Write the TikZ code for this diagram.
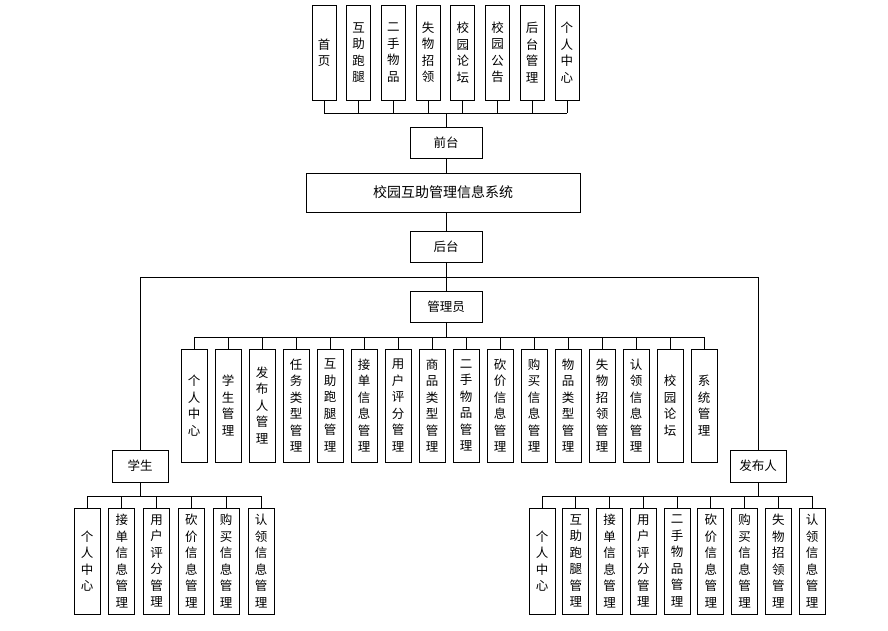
\documentclass[tikz,border=0pt]{standalone}
\usepackage{fontspec}
\setmainfont{Noto Sans CJK SC}
\begin{document}
\begin{tikzpicture}[x=1pt,y=-1pt,
  box/.style={draw,line width=0.8pt,fill=white,inner sep=0pt,align=center,font=\fontsize{12.5}{16.5}\selectfont},
  vb/.style={box,minimum width=24,minimum height=#1},
  ln/.style={line width=0.8pt}]
\useasboundingbox (0,0) rectangle (888,630);
% top
\foreach \t [count=\i] in {首\\页,互\\助\\跑\\腿,二\\手\\物\\品,失\\物\\招\\领,校\\园\\论\\坛,校\\园\\公\\告,后\\台\\管\\理,个\\人\\中\\心}
  \node[vb=95] (t\i) at ({324+34.7*(\i-1)},52.5) {\t};
\node[box,minimum width=72,minimum height=31] (qt) at (446,142.5) {前台};
\node[box,minimum width=274,minimum height=39,font=\fontsize{14}{16}\selectfont] (sys) at (443,192.5) {校园互助管理信息系统};
\node[box,minimum width=72,minimum height=31] (ht) at (446,246.5) {后台};
\coordinate (tb) at (0,113);
\foreach \i in {1,...,8} \draw[ln] (t\i.south) -- (t\i.south |- tb);
\draw[ln] (t1.south |- tb) -- (t8.south |- tb);
\draw[ln] (qt.north) -- (qt.north |- tb);
\draw[ln] (qt.south) -- (qt.south |- sys.north);
\draw[ln] (ht.north |- sys.south) -- (ht.north);
% second level
\node[box,minimum width=72,minimum height=31] (gly) at (446,306.5) {管理员};
\node[box,minimum width=56,minimum height=32] (xs) at (140,466) {学生};
\node[box,minimum width=56,minimum height=32] (fbr) at (758,466) {发布人};
\coordinate (hb) at (0,277);
\draw[ln] (ht.south) -- (ht.south |- hb);
\draw[ln] (xs.north) -- (xs.north |- hb) -- (fbr.north |- hb) -- (fbr.north);
\draw[ln] (gly.north) -- (gly.north |- hb);
% admin children
\coordinate (ab) at (0,337);
\foreach \t [count=\i] in {个\\人\\中\\心,学\\生\\管\\理,发\\布\\人\\管\\理,任\\务\\类\\型\\管\\理,互\\助\\跑\\腿\\管\\理,接\\单\\信\\息\\管\\理,用\\户\\评\\分\\管\\理,商\\品\\类\\型\\管\\理,二\\手\\物\\品\\管\\理,砍\\价\\信\\息\\管\\理,购\\买\\信\\息\\管\\理,物\\品\\类\\型\\管\\理,失\\物\\招\\领\\管\\理,认\\领\\信\\息\\管\\理,校\\园\\论\\坛,系\\统\\管\\理}
  {\node[vb=113,minimum width=26] (a\i) at ({194+34*(\i-1)},405.5) {\t};
   \draw[ln] (a\i.north) -- (a\i.north |- ab);}
\draw[ln] (a1.north |- ab) -- (a16.north |- ab);
\draw[ln] (gly.south) -- (gly.south |- ab);
% student children
\coordinate (sb) at (0,496);
\foreach \t [count=\i] in {个\\人\\中\\心,接\\单\\信\\息\\管\\理,用\\户\\评\\分\\管\\理,砍\\价\\信\\息\\管\\理,购\\买\\信\\息\\管\\理,认\\领\\信\\息\\管\\理}
  {\node[vb=106,minimum width=26] (s\i) at ({87+34.8*(\i-1)},561) {\t};
   \draw[ln] (s\i.north) -- (s\i.north |- sb);}
\draw[ln] (s1.north |- sb) -- (s6.north |- sb);
\draw[ln] (xs.south) -- (xs.south |- sb);
% publisher children
\foreach \t [count=\i] in {个\\人\\中\\心,互\\助\\跑\\腿\\管\\理,接\\单\\信\\息\\管\\理,用\\户\\评\\分\\管\\理,二\\手\\物\\品\\管\\理,砍\\价\\信\\息\\管\\理,购\\买\\信\\息\\管\\理,失\\物\\招\\领\\管\\理,认\\领\\信\\息\\管\\理}
  {\node[vb=106,minimum width=26] (p\i) at ({542+33.75*(\i-1)},561) {\t};
   \draw[ln] (p\i.north) -- (p\i.north |- sb);}
\draw[ln] (p1.north |- sb) -- (p9.north |- sb);
\draw[ln] (fbr.south) -- (fbr.south |- sb);
\end{tikzpicture}
\end{document}
